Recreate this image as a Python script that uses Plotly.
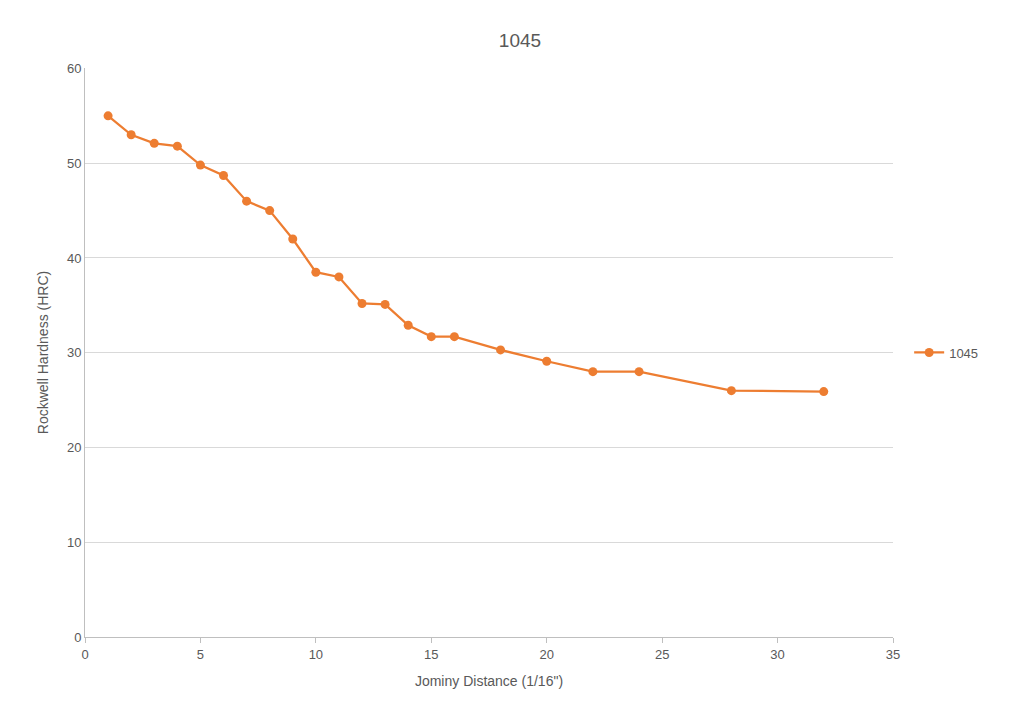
import plotly.graph_objects as go

# Jominy end-quench test, 1045 steel
distance = [1, 2, 3, 4, 5, 6, 7, 8, 9, 10, 11, 12, 13, 14, 15, 16, 18, 20, 22, 24, 28, 32]
hardness = [55.0, 53.0, 52.1, 51.8, 49.8, 48.7, 46.0, 45.0, 42.0, 38.5, 38.0, 35.2,
            35.1, 32.9, 31.7, 31.7, 30.3, 29.1, 28.0, 28.0, 26.0, 25.9]

orange = "#ED7D31"
grey = "#595959"

fig = go.Figure()
fig.add_trace(go.Scatter(
    x=distance, y=hardness, name="1045", mode="lines+markers",
    line=dict(color=orange, width=2.25),
    marker=dict(color=orange, size=9),
))

fig.update_layout(
    width=1024, height=720,
    paper_bgcolor="white", plot_bgcolor="white",
    font=dict(family="Liberation Sans, Arial", color=grey, size=13),
    title=dict(text="1045", x=0.5, xanchor="center", y=0.965,
               font=dict(size=19, color=grey)),
    margin=dict(l=77, r=139, t=60, b=91),
    showlegend=True,
    legend=dict(x=1.02, y=0.5, xanchor="left", yanchor="middle",
                font=dict(size=13, color=grey)),
)
fig.update_xaxes(
    range=[0, 35], dtick=5, showgrid=False, zeroline=False,
    showline=True, linecolor="#bfbfbf", ticks="outside", tickcolor="#bfbfbf",
    ticklen=5, title=dict(text="Jominy Distance (1/16\")", font=dict(size=14)),
)
fig.update_yaxes(
    range=[0, 60.05], tickvals=[0, 10, 20, 30, 40, 50, 60], showgrid=True,
    gridcolor="#d9d9d9", zeroline=False,
    showline=True, linecolor="#bfbfbf", ticks="", ticklen=5,
    title=dict(text="Rockwell Hardness (HRC)", font=dict(size=14)),
)

fig.write_html("out.html")
